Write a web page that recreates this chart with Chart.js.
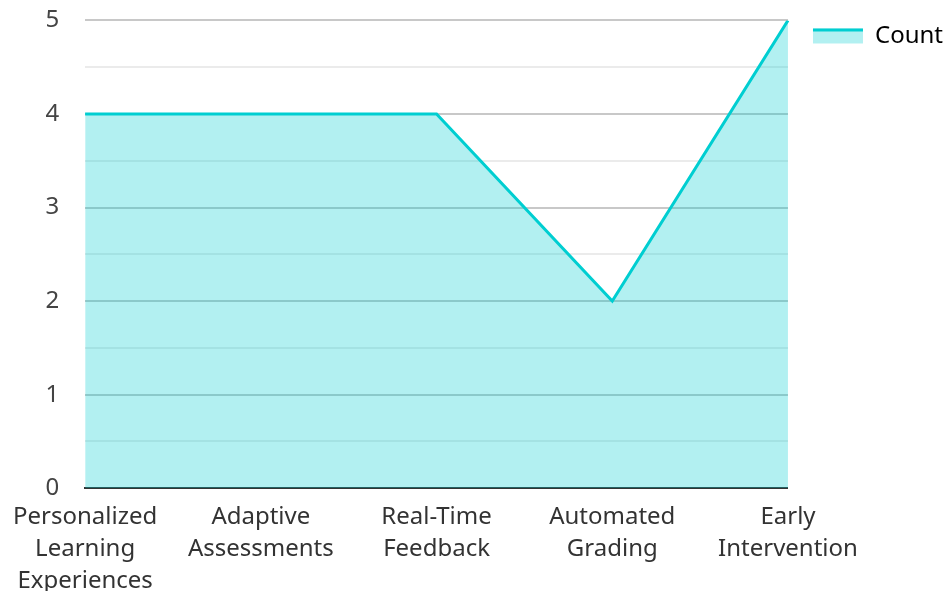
<!DOCTYPE html>
<html>
<head>
<meta charset="utf-8">
<script src="https://cdn.jsdelivr.net/npm/chart.js@4"></script>
<style>
  html, body { margin: 0; padding: 0; background: #ffffff; }
  #wrap { width: 945px; height: 591px; position: relative; }
</style>
</head>
<body>
<div id="wrap"><canvas id="c"></canvas></div>
<script>
const categories = [
  ["Personalized", "Learning", "Experiences"],
  ["Adaptive", "Assessments"],
  ["Real-Time", "Feedback"],
  ["Automated", "Grading"],
  ["Early", "Intervention"]
];
const seriesName = "Count";
const countValues = [4, 4, 4, 2, 5];
const yTickLabels = [0, 1, 2, 3, 4, 5];

const lineColor = "#00CED1";
const fillColor = "rgba(0, 206, 209, 0.3)";
const FONT = "'Noto Sans', sans-serif";
const FS = 24;

const legendLinePlugin = {
  id: "legendLine",
  afterDraw(chart) {
    const lg = chart.legend;
    if (!lg || !lg.legendHitBoxes || !lg.legendHitBoxes.length) return;
    const hb = lg.legendHitBoxes[0];
    const opts = lg.options.labels;
    const boxH = opts.boxHeight;
    const top = hb.top + Math.max((FS - boxH) / 2, 0);
    const ctx = chart.ctx;
    ctx.save();
    ctx.strokeStyle = lineColor;
    ctx.lineWidth = 3;
    ctx.beginPath();
    ctx.moveTo(hb.left, top + 1.5);
    ctx.lineTo(hb.left + opts.boxWidth, top + 1.5);
    ctx.stroke();
    ctx.restore();
  }
};

new Chart(document.getElementById("c"), {
  type: "line",
  data: {
    labels: categories,
    datasets: [{
      label: seriesName,
      data: countValues,
      borderColor: lineColor,
      backgroundColor: fillColor,
      borderWidth: 3,
      fill: "origin",
      tension: 0,
      pointRadius: 0,
      pointHoverRadius: 0
    }]
  },
  options: {
    responsive: true,
    maintainAspectRatio: false,
    animation: false,
    layout: { padding: { top: -1, right: -8, bottom: -19, left: 0 } },
    plugins: {
      tooltip: { enabled: false },
      legend: {
        position: "right",
        align: "start",
        labels: {
          boxWidth: 50,
          boxHeight: 15,
          padding: 25,
          color: "#222",
          font: { family: FONT, size: FS },
          generateLabels(chart) {
            const ds = chart.data.datasets[0];
            return [{
              text: ds.label,
              fillStyle: fillColor,
              strokeStyle: "rgba(0,0,0,0)",
              lineWidth: 0,
              hidden: false,
              datasetIndex: 0
            }];
          }
        }
      }
    },
    scales: {
      x: {
        offset: false,
        grid: { display: false, drawTicks: false },
        border: { display: true, color: "#333333", width: 2 },
        ticks: {
          color: "#333",
          padding: 13,
          maxRotation: 0,
          autoSkip: false,
          font: { family: FONT, size: FS, lineHeight: 1.33 }
        }
      },
      y: {
        min: 0,
        max: 5,
        afterBuildTicks(axis) {
          const t = [];
          for (let i = 0; i < yTickLabels.length; i++) {
            t.push({ value: yTickLabels[i] });
            if (i < yTickLabels.length - 1) t.push({ value: yTickLabels[i] + 0.5 });
          }
          axis.ticks = t;
        },
        grid: {
          drawTicks: true,
          tickLength: 20,
          tickColor: "rgba(0,0,0,0)",
          lineWidth: 2,
          color(ctx) {
            if (!ctx.tick) return "#c8c8c8";
            return Number.isInteger(ctx.tick.value) ? "#c8c8c8" : "#ebebeb";
          }
        },
        border: { display: false },
        ticks: {
          color: "#444",
          padding: 6,
          font: { family: FONT, size: FS },
          callback(v) { return Number.isInteger(v) ? String(v) : ""; }
        }
      }
    }
  },
  plugins: [legendLinePlugin]
});
</script>
</body>
</html>
